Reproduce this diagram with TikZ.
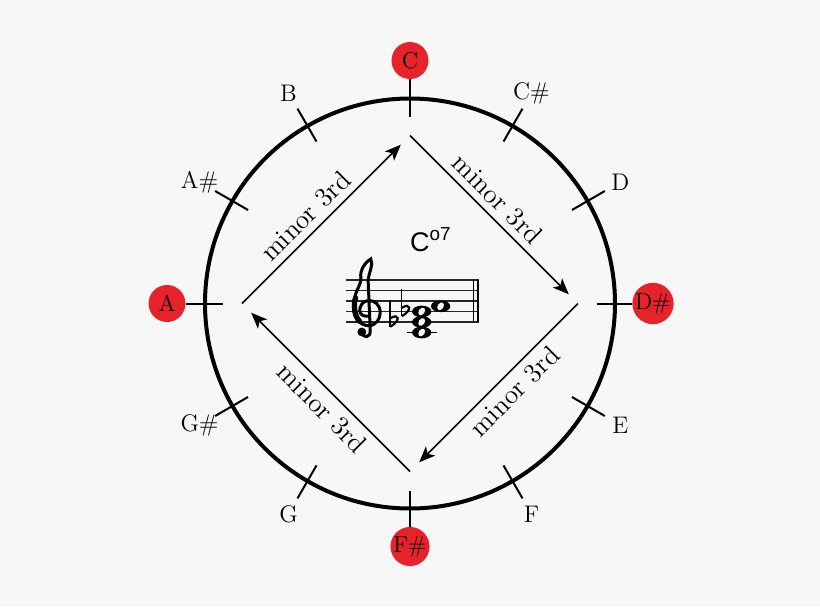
\documentclass[tikz,border=0pt]{standalone}
\usepackage{fontspec}
\newfontfamily\chordfont{Liberation Sans}
\usetikzlibrary{arrows.meta, calc, positioning}
\definecolor{notered}{RGB}{230,34,42}
\definecolor{paper}{RGB}{247,247,247}

\begin{document}
\begin{tikzpicture}[x=0.5pt, y=0.5pt,
        note/.style={font=\fontsize{12}{14}\selectfont, inner sep=0pt},
        root/.style={circle, fill=notered, minimum size=18.5pt, inner sep=0pt, font=\fontsize{11.5}{14}\selectfont},
        third/.style={line width=0.8pt, -{Stealth[length=8pt, width=6.5pt, inset=2pt]}, shorten >=6.5pt},
        interval/.style={font=\fontsize{13.5}{15}\selectfont},
        tick/.style={line width=1pt}]
    \fill[paper] (-410,-303.5) rectangle (410,303.5);
    \useasboundingbox (-410,-303.5) rectangle (410,303.5);

    \coordinate (o) at (0,0);
    \draw[line width=2pt] (o) circle [radius=205];

    % the four notes of the chord
    \foreach \ang/\name/\lbl in {90/C/C, 0/Ds/D\#, 270/Fs/F\#, 180/A/A} {
        \node[root] (\name) at (\ang:243) {\lbl};
        \draw[tick] (\ang:187) -- (\name);
    }
    % the other notes
    \foreach \ang/\name/\lbl in {60/Cs/C\#, 30/D/D, -30/E/E, -60/F/F, 240/G/G, 210/Gs/G\#, 150/As/A\#, 120/B/B} {
        \node[note] (\name) at (\ang:243) {\lbl};
        \draw[tick] (\ang:187) -- (\ang:225);
    }

    \coordinate (vtop) at (90:168);
    \coordinate (vright) at (0:168);
    \coordinate (vbottom) at (270:168);
    \coordinate (vleft) at (180:168);

    \draw[third] (vleft) -- node[interval, sloped, above, pos=0.45] {minor 3rd} (vtop);
    \draw[third] (vtop) -- node[interval, sloped, above, pos=0.45] {minor 3rd} (vright);
    \draw[third] (vright) -- node[interval, sloped, below, pos=0.45] {minor 3rd} (vbottom);
    \draw[third] (vbottom) -- node[interval, sloped, below, pos=0.45] {minor 3rd} (vleft);

    \node[font=\chordfont\fontsize{13.5}{15}\selectfont] (chord) at (21,64) {C\textsuperscript{o7}};

    % staff
    \begin{scope}[shift={(-45,-18.5)}, x=5.25pt, y=5.25pt]
        \foreach \y in {0,...,4}
            \draw[line width=0.55pt, black!85] (-1.8,\y) -- (10.85,\y);
        \draw[line width=0.6pt] (10.3,0) -- (10.3,4);
        \draw[line width=1.1pt] (10.75,0) -- (10.75,4);
        % clef
        \draw[line width=1.5pt, line cap=round]
            (-0.3,-1.0) .. controls (-0.2,-1.55) and (0.55,-1.55) .. (0.5,-0.8)
            -- (0.3,3.9)
            .. controls (0.35,4.8) and (0.85,5.4) .. (0.55,6.0)
            .. controls (0.05,5.7) and (-0.5,5.0) .. (-0.4,4.2)
            .. controls (-0.35,3.4) and (-1.1,2.9) .. (-1.1,1.4)
            .. controls (-1.1,0.1) and (-0.2,-0.35) .. (0.35,-0.35)
            .. controls (1.05,-0.35) and (1.45,0.3) .. (1.45,0.9)
            .. controls (1.45,1.65) and (0.9,2.05) .. (0.4,2.05)
            .. controls (-0.25,2.05) and (-0.5,1.5) .. (-0.5,1.1)
            .. controls (-0.5,0.7) and (-0.1,0.5) .. (0.3,0.55);
        \draw[line width=2.6pt, line cap=round]
            (-0.9,2.3) .. controls (-1.1,1.8) and (-1.05,0.6) .. (-0.5,0.05);
        \fill (-0.3,-0.95) circle [radius=0.42];
        % flats
        \foreach \x/\y in {2.4/0, 3.5/1} {
            \draw[line width=0.7pt] (\x,\y+2.1) -- (\x,\y-0.45);
            \draw[line width=1.1pt]
                (\x,\y-0.45) .. controls (\x+1.0,\y+0.1) and (\x+0.9,\y+0.9) .. (\x,\y+0.35);
        }
        % chord
        \draw[line width=0.7pt] (4.0,-1) -- (6.85,-1);
        \foreach \x/\y in {5.4/-1, 5.4/0, 5.4/1, 7.2/1.5}
            \fill (\x,\y) ellipse [x radius=0.92, y radius=0.56];
        \foreach \x/\y in {5.4/-1, 5.4/0, 5.4/1, 7.2/1.5}
            \fill[paper, rotate around={-35:(\x,\y)}] (\x,\y) ellipse [x radius=0.28, y radius=0.4];
    \end{scope}
\end{tikzpicture}
\end{document}
